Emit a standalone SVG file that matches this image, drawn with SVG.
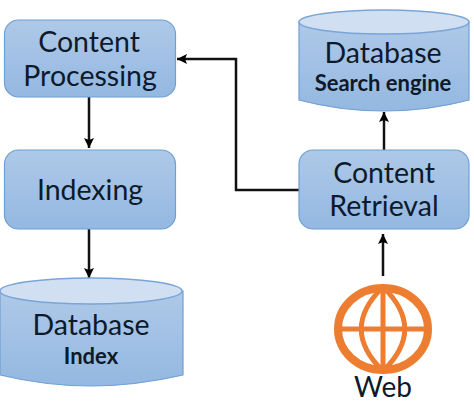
<svg xmlns="http://www.w3.org/2000/svg" width="474" height="402" viewBox="0 0 474 402">
<style>
.t{font-family:Lato,"Noto Sans",sans-serif;font-size:28.5px;fill:#0d1a2b;text-anchor:middle}
.b{font-family:Lato,"Noto Sans",sans-serif;font-size:22px;font-weight:700;fill:#0d1a2b;text-anchor:middle}
.box{fill:url(#g);stroke:#6f9fd3;stroke-width:1.2}
.cyl{fill:url(#g);stroke:#6f9fd3;stroke-width:1.2}
.top{fill:#d0e0f2;stroke:#7aa5d6;stroke-width:1.5}
.c{fill:none;stroke:#111;stroke-width:2.5}
.w{fill:none;stroke:#ed7d31}
</style>
<defs>
<linearGradient id="g" x1="0" y1="0" x2="0" y2="1"><stop offset="0" stop-color="#aec9e8"/><stop offset="1" stop-color="#94b8e1"/></linearGradient>
<marker id="a" markerUnits="userSpaceOnUse" markerWidth="12" markerHeight="12" refX="10" refY="5" orient="auto"><path d="M0 0L10 5L0 10L2 5Z" fill="#000"/></marker>
</defs>
<g id="connectors">
<path class="c" d="M89 97V148" marker-end="url(#a)"/>
<path class="c" d="M89 226V278" marker-end="url(#a)"/>
<path class="c" d="M299 190H236V59H177" marker-end="url(#a)"/>
<path class="c" d="M384 150V112" marker-end="url(#a)"/>
<path class="c" d="M383 276V234" marker-end="url(#a)"/>
</g>
<g id="content-processing"><rect class="box" x="4.500" y="20" width="171" height="77" rx="14"/><text class="t" x="89" y="52">Content</text><text class="t" x="90" y="86">Processing</text></g>
<g id="indexing"><rect class="box" x="4.500" y="150" width="171" height="79" rx="14"/><text class="t" x="90" y="200">Indexing</text></g>
<g id="database-index"><path class="cyl" d="M0 291V375C25 381 55 386 91 386S157 381 183 375V291Z"/><ellipse class="top" cx="91" cy="291" rx="91" ry="13"/><text class="t" x="91" y="335">Database</text><text class="b" x="91" y="364">Index</text></g>
<g id="database-search"><path class="cyl" d="M299 22V100C325 107 350 111 384 111S443 107 469 100V22Z"/><ellipse class="top" cx="384" cy="22" rx="85" ry="12"/><text class="t" x="383" y="63">Database</text><text class="b" x="383" y="91">Search engine</text></g>
<g id="content-retrieval"><rect class="box" x="299" y="150" width="170" height="79" rx="14"/><text class="t" x="384" y="183">Content</text><text class="t" x="384" y="216">Retrieval</text></g>
<g id="web"><ellipse class="w" stroke-width="8" cx="383" cy="329" rx="45" ry="41"/><path class="w" stroke-width="5" d="M383 287C354 315 354 343 383 371C412 343 412 315 383 287ZM383 287V371M339 329H427"/><text class="t" x="383" y="397" style="font-size:28px">Web</text></g>
</svg>
